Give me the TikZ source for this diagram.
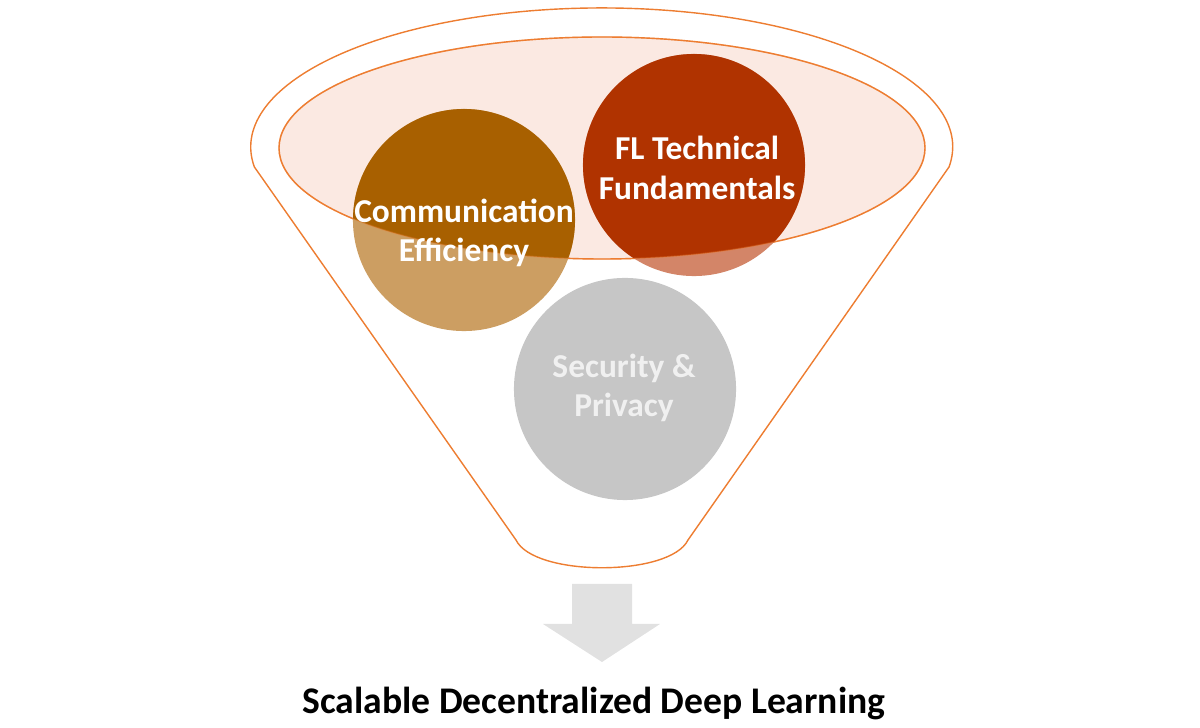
\documentclass[tikz,border=0pt]{standalone}
\usepackage{fontspec}
\setmainfont{Carlito}
\usepackage{tikz}
\usetikzlibrary{positioning}

\definecolor{funnelline}{HTML}{ED7D31}
\definecolor{rimfill}{HTML}{FBE9E2}
\definecolor{commdark}{HTML}{A86000}
\definecolor{commlight}{HTML}{CC9E62}
\definecolor{fldark}{HTML}{B03300}
\definecolor{fllight}{HTML}{D38568}
\definecolor{secgray}{HTML}{C6C6C6}
\definecolor{arrowgray}{HTML}{E1E1E1}

\tikzset{
	topic/.style={circle, minimum size=2.22cm, inner sep=0pt},
	topictext/.style={text=white, align=center, font=\bfseries\fontsize{9.5}{11.2}\selectfont},
	rimline/.style={draw=funnelline, line width=0.4pt},
}

\begin{document}
\begin{tikzpicture}[x=0.01cm,y=-0.01cm]
\useasboundingbox (0,0) rectangle (1200,728);
	% funnel
	\draw[rimline] (949,167) arc[start angle=8.3, end angle=-188.3, x radius=351, y radius=139]
		-- (516,540) .. controls (534,577) and (670,577) .. (688,540) -- cycle;
	\fill[rimfill] (602,148) ellipse[x radius=323, y radius=111];
	\draw[rimline] (602,148) ellipse[x radius=323, y radius=111];

	\node[topic, fill=commlight] (comm) at (464,220) {};
	\node[topic, fill=fllight] (fl) at (694,165) {};
	\node[topic, fill=secgray] (sec) at (625,389) {};
	\begin{scope}
		\clip (602,148) ellipse[x radius=323, y radius=111];
		\fill[commdark] (comm.center) circle[radius=111];
		\fill[fldark] (fl.center) circle[radius=111];
	\end{scope}
	\draw[rimline, draw opacity=0.35] (602,148) ellipse[x radius=323, y radius=111];

	\node[topictext] (commtext) at (464,233) {Communication\\Efficiency};
	\node[topictext] (fltext) at (697,168) {FL Technical\\Fundamentals};
	\node[topictext, text=white!94!black] (sectext) at (624,388) {Security \&\\Privacy};

	% output
	\fill[arrowgray] (572,584) -- (632,584) -- (632,624) -- (660,624) -- (602,662)
		-- (543,624) -- (572,624) -- cycle;
	\node[font=\bfseries\fontsize{10.7}{13}\selectfont] (result) at (594,703) {Scalable Decentralized Deep Learning};
\end{tikzpicture}
\end{document}
